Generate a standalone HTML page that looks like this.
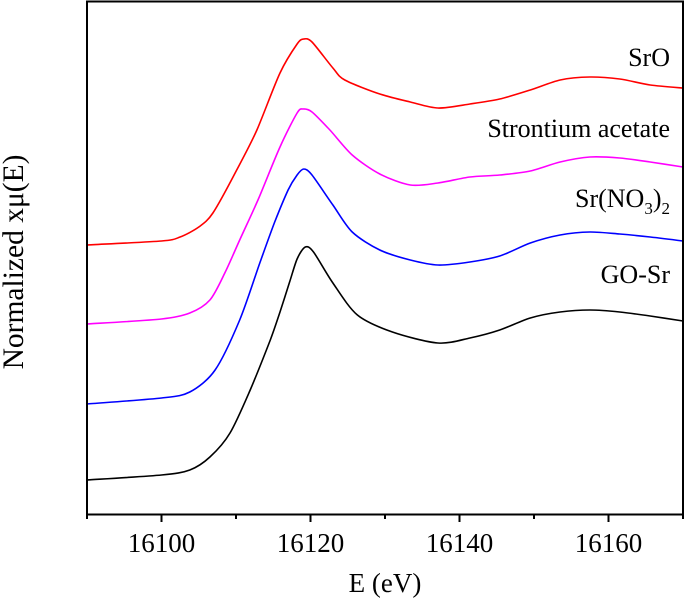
<!DOCTYPE html>
<html><head><meta charset="utf-8"><style>
html,body{margin:0;padding:0;background:#fff;}
svg{display:block;font-family:"Liberation Serif",serif;}
</style></head><body>
<svg id="chart" width="685" height="601" viewBox="0 0 685 601" xmlns="http://www.w3.org/2000/svg">
<g id="plot"></g>
<rect x="87" y="1.5" width="596" height="513" fill="none" stroke="#000" stroke-width="2"/>
<g id="xticks"></g>
<text x="385" y="592" font-size="27" text-anchor="middle">E (eV)</text>
<text transform="translate(23,262) rotate(-90)" font-size="29.5" text-anchor="middle">Normalized xμ(E)</text>
<text x="670" y="66" font-size="26" text-anchor="end">SrO</text>
<text x="670" y="137" font-size="26" text-anchor="end">Strontium acetate</text>
<text x="670" y="207" font-size="26" text-anchor="end">Sr(NO<tspan font-size="17" dy="7">3</tspan><tspan dy="-7">)</tspan><tspan font-size="17" dy="7">2</tspan></text>
<text x="670" y="283" font-size="26" text-anchor="end">GO-Sr</text>
</svg>
<script>
const tailE = [16133.4,16137.1,16141.4,16145.4,16149.5,16153.5,16157.5,16161.5,16165.6,16170];
const goSrE = [16090,16100,16103.8,16106.5,16109.2,16111.9,16114.6,16115.9,16117.2,16118.2,16119.3,16120.4,16123,16126.3,16131].concat(tailE.slice(1));
const goSr = [0.34,0.39,0.44,0.57,0.81,1.24,1.74,2.02,2.32,2.55,2.67,2.62,2.31,1.99,1.82,1.71,1.76,1.84,1.96,2.02,2.04,2.02,1.98,1.93];
const srNO3E = [16090,16100,16103.8,16107.2,16110.5,16113.2,16115.2,16117,16118.2,16119.1,16120.2,16123,16125.6,16129.3].concat(tailE);
const srNO3 = [1.10,1.16,1.22,1.44,1.94,2.51,2.92,3.24,3.39,3.45,3.39,3.09,2.82,2.64,2.54,2.49,2.52,2.58,2.71,2.79,2.82,2.80,2.77,2.73];
const acetateE = [16090,16100,16103.8,16106.5,16108.5,16110.5,16113,16115.9,16118.2,16119,16120.2,16122.6,16125.6,16129.3].concat(tailE);
const acetate = [1.90,1.95,2.01,2.14,2.41,2.74,3.15,3.67,4.01,4.05,4.02,3.84,3.59,3.40,3.29,3.31,3.37,3.39,3.43,3.52,3.57,3.56,3.52,3.47];
const srOE = [16090,16100,16102.5,16105,16106.9,16110.1,16112.8,16115.9,16118.2,16119.1,16120.2,16123,16124.6,16129.3].concat(tailE);
const srO = [2.69,2.73,2.77,2.87,3.01,3.44,3.84,4.41,4.70,4.75,4.72,4.46,4.34,4.20,4.12,4.06,4.10,4.15,4.24,4.34,4.37,4.35,4.29,4.26];
const xTickValues = [16100,16120,16140,16160];
const xMinorValues = [16090,16110,16130,16150,16170];

const NS='http://www.w3.org/2000/svg';
function xScale(e){return 87+(e-16090)*(596/80);}
function yScale(v){return 514-v*100;}
function smoothPath(pts){
  let d='M'+pts[0][0].toFixed(1)+','+pts[0][1].toFixed(1);
  for(let i=0;i<pts.length-1;i++){
    const p0=pts[Math.max(0,i-1)],p1=pts[i],p2=pts[i+1],p3=pts[Math.min(pts.length-1,i+2)];
    const c1x=p1[0]+(p2[0]-p0[0])/7,c1y=p1[1]+(p2[1]-p0[1])/7;
    const c2x=p2[0]-(p3[0]-p1[0])/7,c2y=p2[1]-(p3[1]-p1[1])/7;
    d+=' C'+c1x.toFixed(1)+','+c1y.toFixed(1)+' '+c2x.toFixed(1)+','+c2y.toFixed(1)+' '+p2[0].toFixed(1)+','+p2[1].toFixed(1);
  }
  return d;
}
const plot=document.getElementById('plot');
const series=[[goSrE,goSr,'#000','series-go-sr'],[srNO3E,srNO3,'#0000ff','series-sr-no3-2'],[acetateE,acetate,'#ff00ff','series-strontium-acetate'],[srOE,srO,'#ff0000','series-sro']];
series.forEach(s=>{
  const p=document.createElementNS(NS,'path');
  p.setAttribute('d',smoothPath(s[0].map((e,i)=>[xScale(e),yScale(s[1][i])])));
  p.setAttribute('fill','none');p.setAttribute('stroke',s[2]);p.setAttribute('stroke-width','1.6');
  
  
  plot.appendChild(p);
});
const xt=document.getElementById('xticks');
xTickValues.forEach(v=>{
  const l=document.createElementNS(NS,'line');
  l.setAttribute('x1',xScale(v));l.setAttribute('x2',xScale(v));l.setAttribute('y1',514);l.setAttribute('y2',522);
  l.setAttribute('stroke','#000');l.setAttribute('stroke-width','2');
  
  
  xt.appendChild(l);
  const t=document.createElementNS(NS,'text');
  t.setAttribute('x',xScale(v));t.setAttribute('y',552);t.setAttribute('font-size','27');t.setAttribute('text-anchor','middle');
  t.textContent=v;
  
  
  xt.appendChild(t);
});
xMinorValues.forEach(v=>{
  const l=document.createElementNS(NS,'line');
  l.setAttribute('x1',xScale(v));l.setAttribute('x2',xScale(v));l.setAttribute('y1',514);l.setAttribute('y2',519);
  l.setAttribute('stroke','#000');l.setAttribute('stroke-width','2');
  
  
  xt.appendChild(l);
});
</script>
</body></html>
